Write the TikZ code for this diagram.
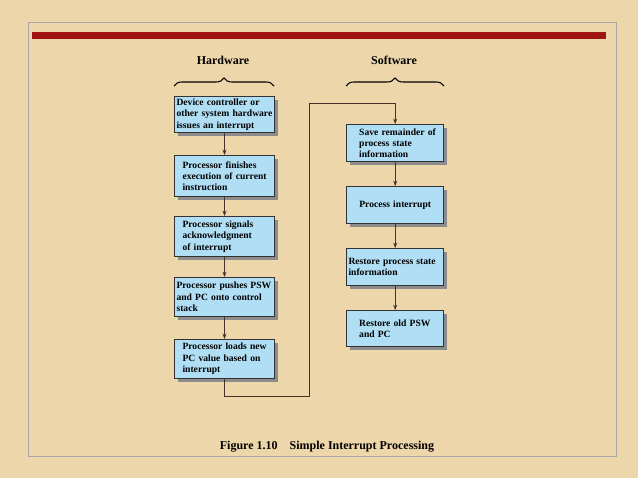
\documentclass[tikz,border=0pt]{standalone}
\usepackage{fontspec}
\setmainfont{Liberation Serif}
\usetikzlibrary{arrows.meta,decorations.pathreplacing,shadows}
\definecolor{parch}{RGB}{236,214,170}
\definecolor{boxblue}{RGB}{176,222,244}
\definecolor{barred}{RGB}{160,20,20}
\definecolor{lnc}{RGB}{70,50,40}
\tikzset{
 stepbox/.style={draw=black!80,line width=0.8pt,fill=boxblue,minimum width=75pt,align=left,anchor=north west,font=\bfseries\fontsize{7.2}{8.4}\selectfont,inner sep=1.5pt,drop shadow={shadow xshift=2.5pt,shadow yshift=-2.5pt,fill=black!45,opacity=1}},
 conn/.style={draw=lnc,line width=0.6pt,-{Stealth[length=4pt,width=3pt]}},
 brace/.style={draw=black,line width=0.8pt,decorate,decoration={brace,amplitude=6pt}},
 hdr/.style={font=\bfseries\fontsize{9}{10}\selectfont}
}
\begin{document}
\begin{tikzpicture}[x=0.75pt,y=-0.75pt]
\useasboundingbox (0,0) rectangle (638,478);
\fill[parch] (0,0) rectangle (638,478);
\draw[black!35,line width=0.5pt] (28,22) rectangle (616,456);
\fill[barred] (32,32) rectangle (606,39);
\node[hdr] (hw) at (223,60) {Hardware};
\node[hdr] (sw) at (394,60) {Software};
\draw[brace] (174,86) -- (274,86);
\draw[brace] (346,86) -- (444,86);
\node[stepbox,minimum height=27pt,text width=72pt] (b1) at (174,96) {Device controller or\\other system hardware\\issues an interrupt};
\node[stepbox,minimum height=31pt,text width=65pt,align=right] (b2) at (174,155) {\makebox[64pt][l]{Processor finishes}\\\makebox[64pt][l]{execution of current}\\\makebox[64pt][l]{instruction}};
\node[stepbox,minimum height=30pt,text width=65pt,align=right] (b3) at (174,216) {\makebox[64pt][l]{Processor signals}\\\makebox[64pt][l]{acknowledgment}\\\makebox[64pt][l]{of interrupt}};
\node[stepbox,minimum height=29pt,text width=72pt] (b4) at (174,277) {Processor pushes PSW\\and PC onto control\\stack};
\node[stepbox,minimum height=29pt,text width=65pt,align=right] (b5) at (174,339) {\makebox[64pt][l]{Processor loads new}\\\makebox[64pt][l]{PC value based on}\\\makebox[64pt][l]{interrupt}};
\node[stepbox,minimum height=28pt,minimum width=73pt,text width=70pt,align=right] (r1) at (346,124) {\makebox[62pt][l]{Save remainder of}\\\makebox[62pt][l]{process state}\\\makebox[62pt][l]{information}};
\node[stepbox,minimum height=28pt,minimum width=73pt,text width=70pt,align=center] (r2) at (346,186) {\vphantom{Ag}Process interrupt};
\node[stepbox,minimum height=28pt,minimum width=73pt,text width=70pt] (r3) at (346,248) {Restore process state\\information};
\node[stepbox,minimum height=27pt,minimum width=73pt,text width=70pt,align=right] (r4) at (346,310) {\makebox[62pt][l]{Restore old PSW}\\\makebox[62pt][l]{and PC}};
\foreach \a/\b in {b1/b2,b2/b3,b3/b4,b4/b5,r1/r2,r2/r3,r3/r4}
  \draw[conn] (\a.south) -- (\b.north);
\coordinate (c2) at (309,396);
\coordinate (c3) at (309,103);
\coordinate (c4) at (r1.north|-c3);
\draw[conn] (b5.south) |- (c2) -- (c3) -- (c4) -- (r1.north);
\node[font=\bfseries\fontsize{9}{10}\selectfont] (cap) at (327,447) {Figure 1.10\quad Simple Interrupt Processing};
\end{tikzpicture}
\end{document}
